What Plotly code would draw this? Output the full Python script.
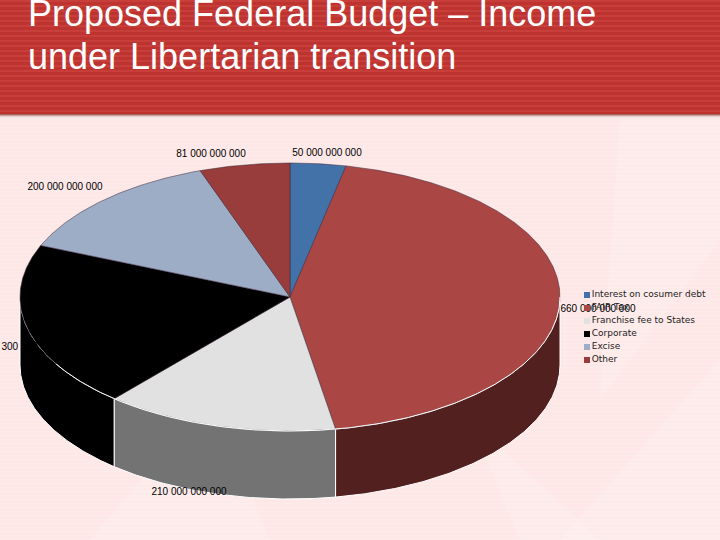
import math
import plotly.graph_objects as go

categories = ["Interest on cosumer debt", "FAIR Tax", "Franchise fee to States", "Corporate", "Excise", "Other"]
values = [50e9, 660e9, 210e9, 300e9, 200e9, 81e9]
title_lines = ["Proposed Federal Budget – Income", "under Libertarian transition"]

top_colors = ["#4272a8", "#aa4745", "#e1e1e1", "#000000", "#9dadc6", "#983d3b"]
side_colors = ["#2a4568", "#52211f", "#737373", "#000000", "#5f6878", "#5a2423"]
label_pos = [(327, 153), (598, 309), (189, 492), (39, 347), (65, 187), (211, 154)]

CX, CY, RX, RY, DEPTH = 290, 297, 270, 134, 68
total = sum(values)


def pt(deg, dy=0):
    a = math.radians(deg)
    return CX + RX * math.sin(a), CY - RY * math.cos(a) + dy


def arc(a0, a1):
    n = max(2, int(abs(a1 - a0)) * 2)
    return [a0 + (a1 - a0) * i / n for i in range(n + 1)]


fig = go.Figure()

start = 0
spans = []
for v in values:
    end = start + v / total * 360
    spans.append((start, end))
    start = end

for (a0, a1), col, name in zip(spans, side_colors, categories):
    lo, hi = max(a0, 90), min(a1, 270)
    if lo >= hi:
        continue
    ang = arc(lo, hi)
    p1 = [pt(a) for a in ang]
    p2 = [pt(a, DEPTH) for a in reversed(ang)]
    poly = p1 + p2 + [p1[0]]
    fig.add_trace(go.Scatter(x=[p[0] for p in poly], y=[p[1] for p in poly], mode="lines",
                             fill="toself", fillcolor=col, line=dict(color="#ffffff", width=1),
                             hoverinfo="skip", showlegend=False, name=name))

for (a0, a1), col, name in zip(spans, top_colors, categories):
    poly = [(CX, CY)] + [pt(a) for a in arc(a0, a1)] + [(CX, CY)]
    fig.add_trace(go.Scatter(x=[p[0] for p in poly], y=[p[1] for p in poly], mode="lines",
                             fill="toself", fillcolor=col, line=dict(color="rgba(60,40,60,0.75)", width=0.7),
                             hoverinfo="skip", showlegend=False, name=name))

fig.add_trace(go.Scatter(x=[pt(a)[0] for a in arc(90, 240)], y=[pt(a)[1] for a in arc(90, 240)], mode="lines",
                         line=dict(color="#ffffff", width=1), hoverinfo="skip", showlegend=False))


def fmt(v):
    return f"{int(v):,}".replace(",", " ")


fig.add_trace(go.Scatter(x=[p[0] for p in label_pos], y=[p[1] for p in label_pos], mode="text",
                         text=[fmt(v) for v in values], textposition="middle center",
                         textfont=dict(family="Liberation Sans", size=10, color="#000000"),
                         hoverinfo="skip", showlegend=False))

LEG_X, LEG_Y, LEG_STEP = 587, 295, 13
fig.add_trace(go.Scatter(x=[LEG_X] * 6, y=[LEG_Y + i * LEG_STEP for i in range(6)], mode="markers+text",
                         marker=dict(symbol="square", size=6, color=top_colors),
                         text=categories, textposition="middle right",
                         textfont=dict(family="DejaVu Sans", size=9, color="#222222"),
                         hoverinfo="skip", showlegend=False))

shapes = []
shapes.append(dict(type="rect", xref="x", yref="y", x0=0, x1=720, y0=0, y1=114, fillcolor="#bd3330",
                   line_width=0, layer="below"))
for y in range(0, 114, 5):
    shapes.append(dict(type="rect", xref="x", yref="y", x0=0, x1=720, y0=y, y1=y + 2,
                       fillcolor="#c73e3b", line_width=0, layer="below"))
for i, c in enumerate(["#a8635f", "#c9a09d", "#e8cfcd", "#f8e5e3"]):
    shapes.append(dict(type="rect", xref="x", yref="y", x0=0, x1=720, y0=114 + i, y1=115 + i,
                       fillcolor=c, line_width=0, layer="below"))
for y in range(119, 540, 4):
    shapes.append(dict(type="rect", xref="x", yref="y", x0=0, x1=720, y0=y, y1=y + 1,
                       fillcolor="#ffffff", opacity=0.15, line_width=0, layer="below"))
for path in ["M 560 540 L 720 360 L 720 540 Z", "M 90 540 L 210 400 L 270 540 Z",
             "M 470 420 L 600 540 L 520 540 Z", "M 620 120 L 720 120 L 720 240 L 600 400 Z"]:
    shapes.append(dict(type="path", xref="x", yref="y", path=path, fillcolor="#ffffff",
                       opacity=0.15, line_width=0, layer="below"))

annotations = [
    dict(x=26, y=y, xref="x", yref="y", text=t, showarrow=False, xanchor="left", yanchor="middle",
         font=dict(family="Liberation Sans", size=36, color="#ffffff"))
    for t, y in zip(title_lines, [13, 56])
]

fig.update_layout(
    width=720, height=540, margin=dict(l=0, r=0, t=0, b=0), autosize=False,
    paper_bgcolor="#fde8e7", plot_bgcolor="rgba(0,0,0,0)", showlegend=False,
    xaxis=dict(range=[0, 720], visible=False, fixedrange=True),
    yaxis=dict(range=[540, 0], visible=False, fixedrange=True),
    shapes=shapes, annotations=annotations,
)
fig.write_html("out.html", config=dict(displayModeBar=False), include_plotlyjs=True,
               post_script="document.body.style.margin='0';document.documentElement.style.overflow='hidden';")
